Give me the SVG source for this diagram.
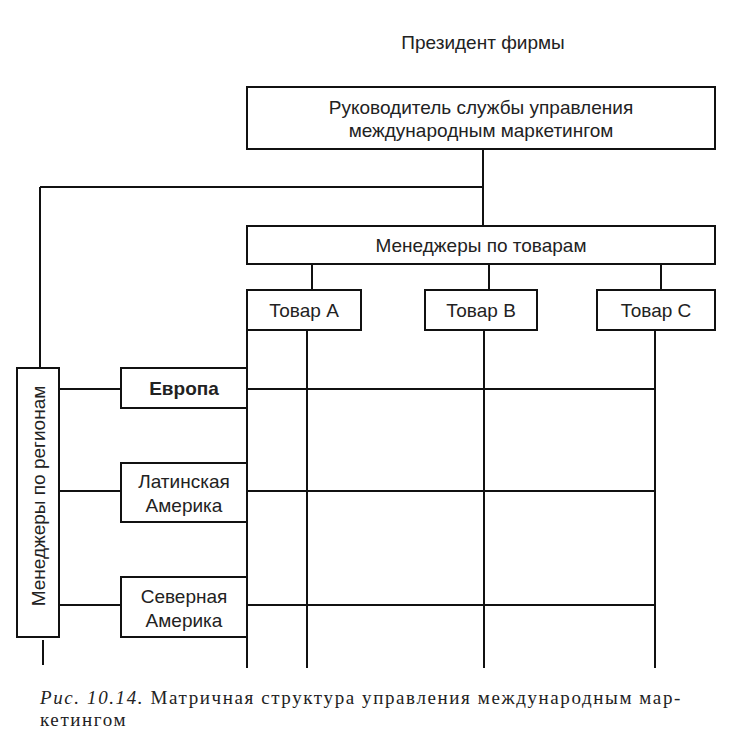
<svg xmlns="http://www.w3.org/2000/svg" width="730" height="740" viewBox="0 0 730 740">
<style>
.b{fill:#fff;stroke:#111;stroke-width:2}
.l{stroke:#111;stroke-width:2;fill:none}
text{font-family:"Liberation Sans",Arial,sans-serif;font-size:19px;fill:#222;text-anchor:middle}
.c{font-family:"Liberation Serif","Times New Roman",serif;font-size:19px;text-anchor:start;letter-spacing:1.6px}
</style>
<rect width="730" height="740" fill="#fff"/>
<g id="connectors">
<path class="l" d="M483 149V226M40 187H483M40 187V368M312 264V290M489 264V290M661 264V290M307 330V668M484 330V668M655 330V668M247 330V668M43 640V665M59 389H121M59 491H121M59 605H121M247 389H655M247 491H655M247 605H655"/>
</g>
<g id="president"><text x="483" y="49">Президент фирмы</text></g>
<g id="head"><rect class="b" x="247" y="87" width="468" height="62"/><text x="481" y="114">Руководитель службы управления</text><text x="481" y="137">международным маркетингом</text></g>
<g id="products"><rect class="b" x="247" y="226" width="468" height="38"/><text x="481" y="252">Менеджеры по товарам</text></g>
<g id="tovarA"><rect class="b" x="247" y="290" width="114" height="40"/><text x="304" y="317">Товар А</text></g>
<g id="tovarB"><rect class="b" x="425" y="290" width="112" height="40"/><text x="481" y="317">Товар В</text></g>
<g id="tovarC"><rect class="b" x="597" y="290" width="118" height="40"/><text x="656" y="317">Товар С</text></g>
<g id="regions"><rect class="b" x="17" y="368" width="42" height="269"/><text transform="translate(45 496) rotate(-90)">Менеджеры по регионам</text></g>
<g id="europe"><rect class="b" x="121" y="368" width="126" height="40"/><text x="184" y="395" font-weight="bold" font-size="17">Европа</text></g>
<g id="latin"><rect class="b" x="121" y="463" width="126" height="59"/><text x="184" y="488">Латинская</text><text x="184" y="512">Америка</text></g>
<g id="north"><rect class="b" x="121" y="577" width="126" height="60"/><text x="184" y="603">Северная</text><text x="184" y="627">Америка</text></g>
<g id="caption"><text class="c" x="40" y="704"><tspan font-style="italic">Рис. 10.14.</tspan> Матричная структура управления международным мар-</text><text class="c" x="40" y="726">кетингом</text></g>
</svg>
